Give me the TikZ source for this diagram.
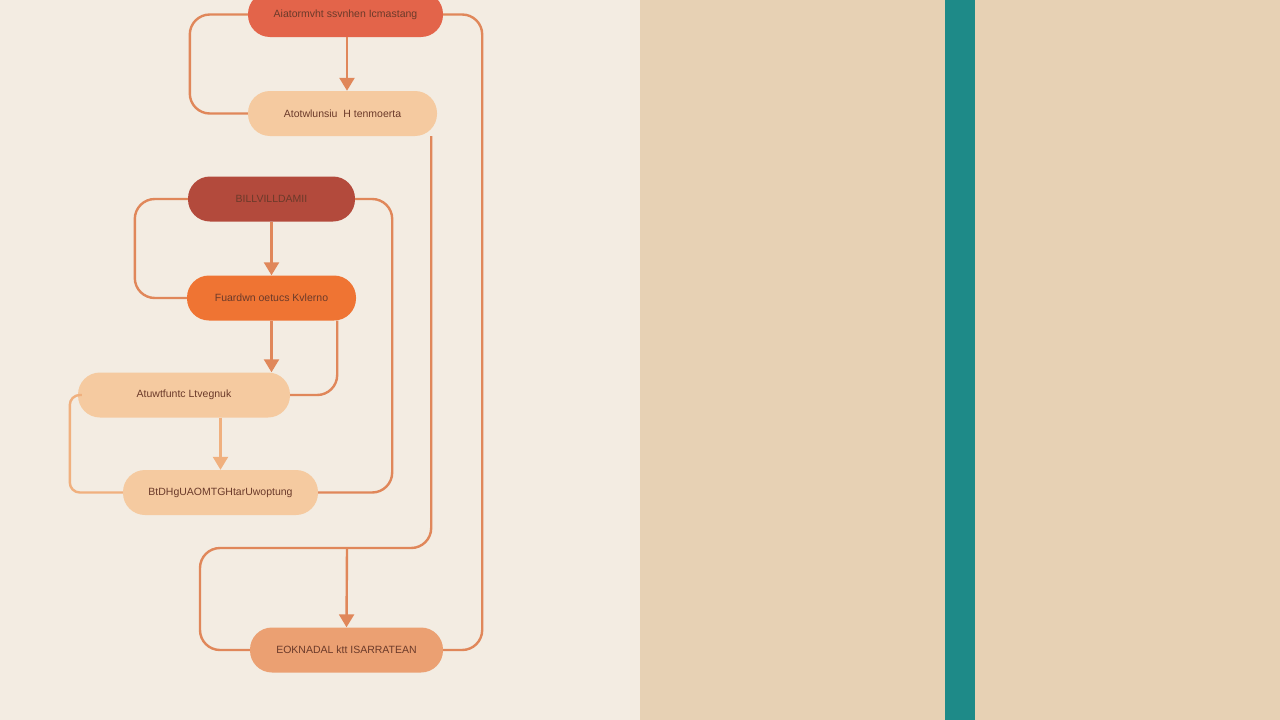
\documentclass[tikz,border=0pt]{standalone}
\usepackage{fontspec}
\setmainfont{Liberation Sans}
\usepackage{xcolor}
\usepackage{tikz}
\usetikzlibrary{arrows.meta}
\definecolor{mycream}{HTML}{F3ECE2}
\definecolor{mytan}{HTML}{E7D1B4}
\definecolor{myteal}{HTML}{1E8A88}
\definecolor{myline}{HTML}{E0875A}
\definecolor{mylight}{HTML}{F0B07E}
\definecolor{mytext}{HTML}{6B3A2A}
\definecolor{myred}{HTML}{E3644A}
\definecolor{mydark}{HTML}{B34A3C}
\definecolor{myorange}{HTML}{EF7433}
\definecolor{mypeach}{HTML}{F5CAA0}
\definecolor{mysalmon}{HTML}{EBA072}
\tikzstyle{box} = [rectangle,rounded corners=22pt,minimum height=45pt,inner sep=0pt,text=mytext,font=\fontsize{10.5}{12}\selectfont]
\tikzstyle{link} = [line width=2.4pt,color=myline,rounded corners=20pt]
\tikzstyle{arrow} = [line width=2.4pt,color=myline,-{Triangle[width=15pt,length=13pt]}]

\begin{document}
\begin{tikzpicture}[x=1pt,y=-1pt]
            % basics
            \useasboundingbox (0,0) rectangle (1280,720);
            \fill [mycream] (0,0) rectangle (640,720);
            \fill [mytan] (640,0) rectangle (1280,720);
            \fill [myteal] (945,0) rectangle (975,720);
            % boxes
            \node[box,fill=myred,minimum width=195pt] (A) at (345.5,14.5) {Aiatormvht ssvnhen Icmastang};
            \node[box,fill=mypeach,minimum width=189pt] (B) at (342.5,113.5) {Atotwlunsiu \ H tenmoerta};
            \node[box,fill=mydark,minimum width=167pt] (C) at (271.5,199) {BILLVILLDAMII};
            \node[box,fill=myorange,minimum width=169pt] (D) at (271.5,298) {Fuardwn oetucs Kvlerno};
            \node[box,fill=mypeach,minimum width=212pt] (E) at (184,395) {Atuwtfuntc Ltvegnuk};
            \node[box,fill=mypeach,minimum width=195pt] (F) at (220.5,492.5) {BtDHgUAOMTGHtarUwoptung};
            \node[box,fill=mysalmon,minimum width=193pt] (G) at (346.5,650) {EOKNADAL ktt ISARRATEAN};
            \coordinate (split) at (347,548);
            % loops
            \draw [link] (A.west) -- ++(-58,0) |- (B.west);
            \draw [link] (A.east) -- ++(39,0) |- (G.east);
            \draw [link] ([xshift=-6pt]B.south east) |- (split) -- ++(-147,0) |- (G.west);
            \draw [link] (C.west) -- ++(-53,0) |- (D.west);
            \draw [link] (C.east) -- ++(37,0) |- (F.east);
            \draw [link] ([xshift=-19pt]D.south east) |- (E.east);
            \draw [link,color=mylight,rounded corners=10pt] ([xshift=4pt]E.west) -- ++(-12,0) |- (F.west);
            % arrows
            \draw [arrow] (A.south -| split) -- (split |- B.north);
            \draw [arrow] (C.south) -- (D.north);
            \draw [arrow] (D.south) -- (D.south |- E.north);
            \draw [arrow,color=mylight] (E.south -| F.north) -- (F.north);
            \draw [arrow] (split) -- (G.north);
        \end{tikzpicture}
\end{document}
